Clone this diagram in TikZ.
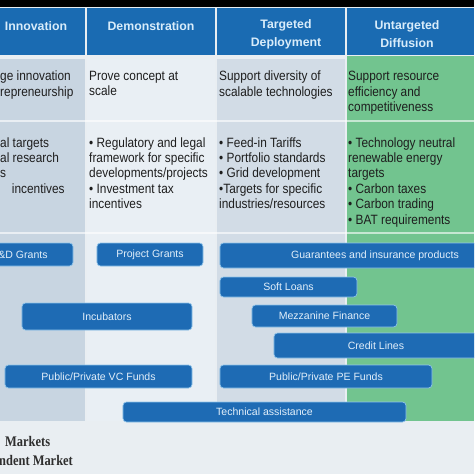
\documentclass[tikz,border=0pt]{standalone}
\usepackage{fontspec}
\setmainfont{Liberation Sans}
\newfontfamily\bodyfont{Liberation Sans}[FakeStretch=0.88]
\newfontfamily\legendfont{Liberation Serif}[FakeStretch=0.85]
\usetikzlibrary{positioning}
\definecolor{hdrblue}{HTML}{1A6BB2}
\definecolor{hdrtext}{HTML}{D8ECFA}
\definecolor{pagebg}{HTML}{E9EEF2}
\definecolor{colgray}{HTML}{C8D5E1}
\definecolor{collight}{HTML}{E9EFF4}
\definecolor{colmid}{HTML}{D2DCE6}
\definecolor{colgreen}{HTML}{72C48F}
\definecolor{barblue}{HTML}{1E6BB4}
\definecolor{baredge}{HTML}{8FC4EA}
\definecolor{bartext}{HTML}{E2EFFA}
\definecolor{celltxt}{HTML}{1E1E1E}
\definecolor{legendtxt}{HTML}{2E2E2E}
\tikzset{
  colhead/.style={font=\bfseries\fontsize{10.5}{15.5}\selectfont, text=hdrtext, align=center},
  celltext/.style={font=\bodyfont\fontsize{11.5}{13.2}\selectfont, align=left,
    anchor=north west, inner sep=0pt, text=celltxt},
  instbar/.style={draw=baredge, fill=barblue, rounded corners=3pt, inner sep=0pt,
    line width=0.6pt, font=\fontsize{9}{10}\selectfont, text=bartext},
  legendtext/.style={font=\legendfont\bfseries\fontsize{12.5}{14}\selectfont, text=legendtxt,
    anchor=base west, inner sep=0pt},
  rowline/.style={white, opacity=0.6, line width=1.2pt},
}

\begin{document}
\begin{tikzpicture}[x=0.03cm, y=-0.03cm]
  \clip (0,0) rectangle (474,474);
  \fill[pagebg] (0,0) rectangle (474,474);
  % top band and column heads
  \fill[black] (0,0) rectangle (474,7);
  \fill[hdrblue] (0,8) rectangle (85,55);
  \fill[hdrblue] (87,8) rectangle (215,55);
  \fill[hdrblue] (217,8) rectangle (345,55);
  \fill[hdrblue] (347,8) rectangle (474,55);
  \node[colhead] (hinno) at (36,26) {Innovation};
  \node[colhead] (hdemo) at (151,26) {Demonstration};
  \node[colhead] (htarg) at (286,34) {Targeted\\Deployment};
  \node[colhead] (huntarg) at (407,34) {Untargeted\\Diffusion};
  % column bodies
  \fill[colgray] (0,59) rectangle (85,421);
  \fill[collight] (87,59) rectangle (215,421);
  \fill[colmid] (217,59) rectangle (345,421);
  \fill[colgreen] (347,56) rectangle (474,421);
  \draw[rowline] (0,121) -- (474,121);
  \draw[rowline] (0,233) -- (474,233);
  % goals
  \node[celltext] (ginno) at (0,71) {ge innovation\\repreneurship};
  \node[celltext] (gdemo) at (89,71) {Prove concept at\\scale};
  \node[celltext] (gtarg) at (219,71) {Support diversity of\\scalable technologies};
  \node[celltext] (guntarg) at (348,71) {Support resource\\efficiency and\\competitiveness};
  % policies
  \node[celltext] (pinno) at (0,137) {al targets\\al research\\s\\\hspace*{10pt}incentives};
  \node[celltext] (pdemo) at (89,137) {\textbullet\ Regulatory and legal\\framework for specific\\developments/projects\\\textbullet\ Investment tax\\incentives};
  \node[celltext] (ptarg) at (219,137) {\textbullet\ Feed-in Tariffs\\\textbullet\ Portfolio standards\\\textbullet\ Grid development\\\textbullet Targets for specific\\industries/resources};
  \node[celltext] (puntarg) at (348,137) {\textbullet\ Technology neutral\\renewable energy\\targets\\\textbullet\ Carbon taxes\\\textbullet\ Carbon trading\\\textbullet\ BAT requirements};
  % instruments
  \node[instbar, minimum width=3cm, minimum height=0.69cm] (rdgrants) at (23,254.5) {\&D Grants};
  \node[instbar, minimum width=3.18cm, minimum height=0.69cm] (projgrants) at (150,254.5) {Project Grants};
  \node[instbar, minimum width=9.3cm, minimum height=0.75cm] (guarant) at (375,255.5) {Guarantees and insurance products};
  \node[instbar, minimum width=4.11cm, minimum height=0.6cm] (softloans) at (288.5,287) {Soft Loans};
  \node[instbar, minimum width=5.1cm, minimum height=0.81cm] (incub) at (107,316.5) {Incubators};
  \node[instbar, minimum width=4.35cm, minimum height=0.66cm] (mezz) at (324.5,316) {Mezzanine Finance};
  \node[instbar, minimum width=6.12cm, minimum height=0.75cm] (credit) at (376,345.5) {Credit Lines};
  \node[instbar, minimum width=5.61cm, minimum height=0.69cm] (vcfunds) at (98.5,376.5) {Public/Private VC Funds};
  \node[instbar, minimum width=6.36cm, minimum height=0.69cm] (pefunds) at (326,376.5) {Public/Private PE Funds};
  \node[instbar, minimum width=8.49cm, minimum height=0.6cm] (techassist) at (264.5,412) {Technical assistance};
  % legend
  \node[legendtext] (leg1) at (5,446) {Markets};
  \node[legendtext] (leg2) at (-1,465) {ndent Market};
\end{tikzpicture}
\end{document}
